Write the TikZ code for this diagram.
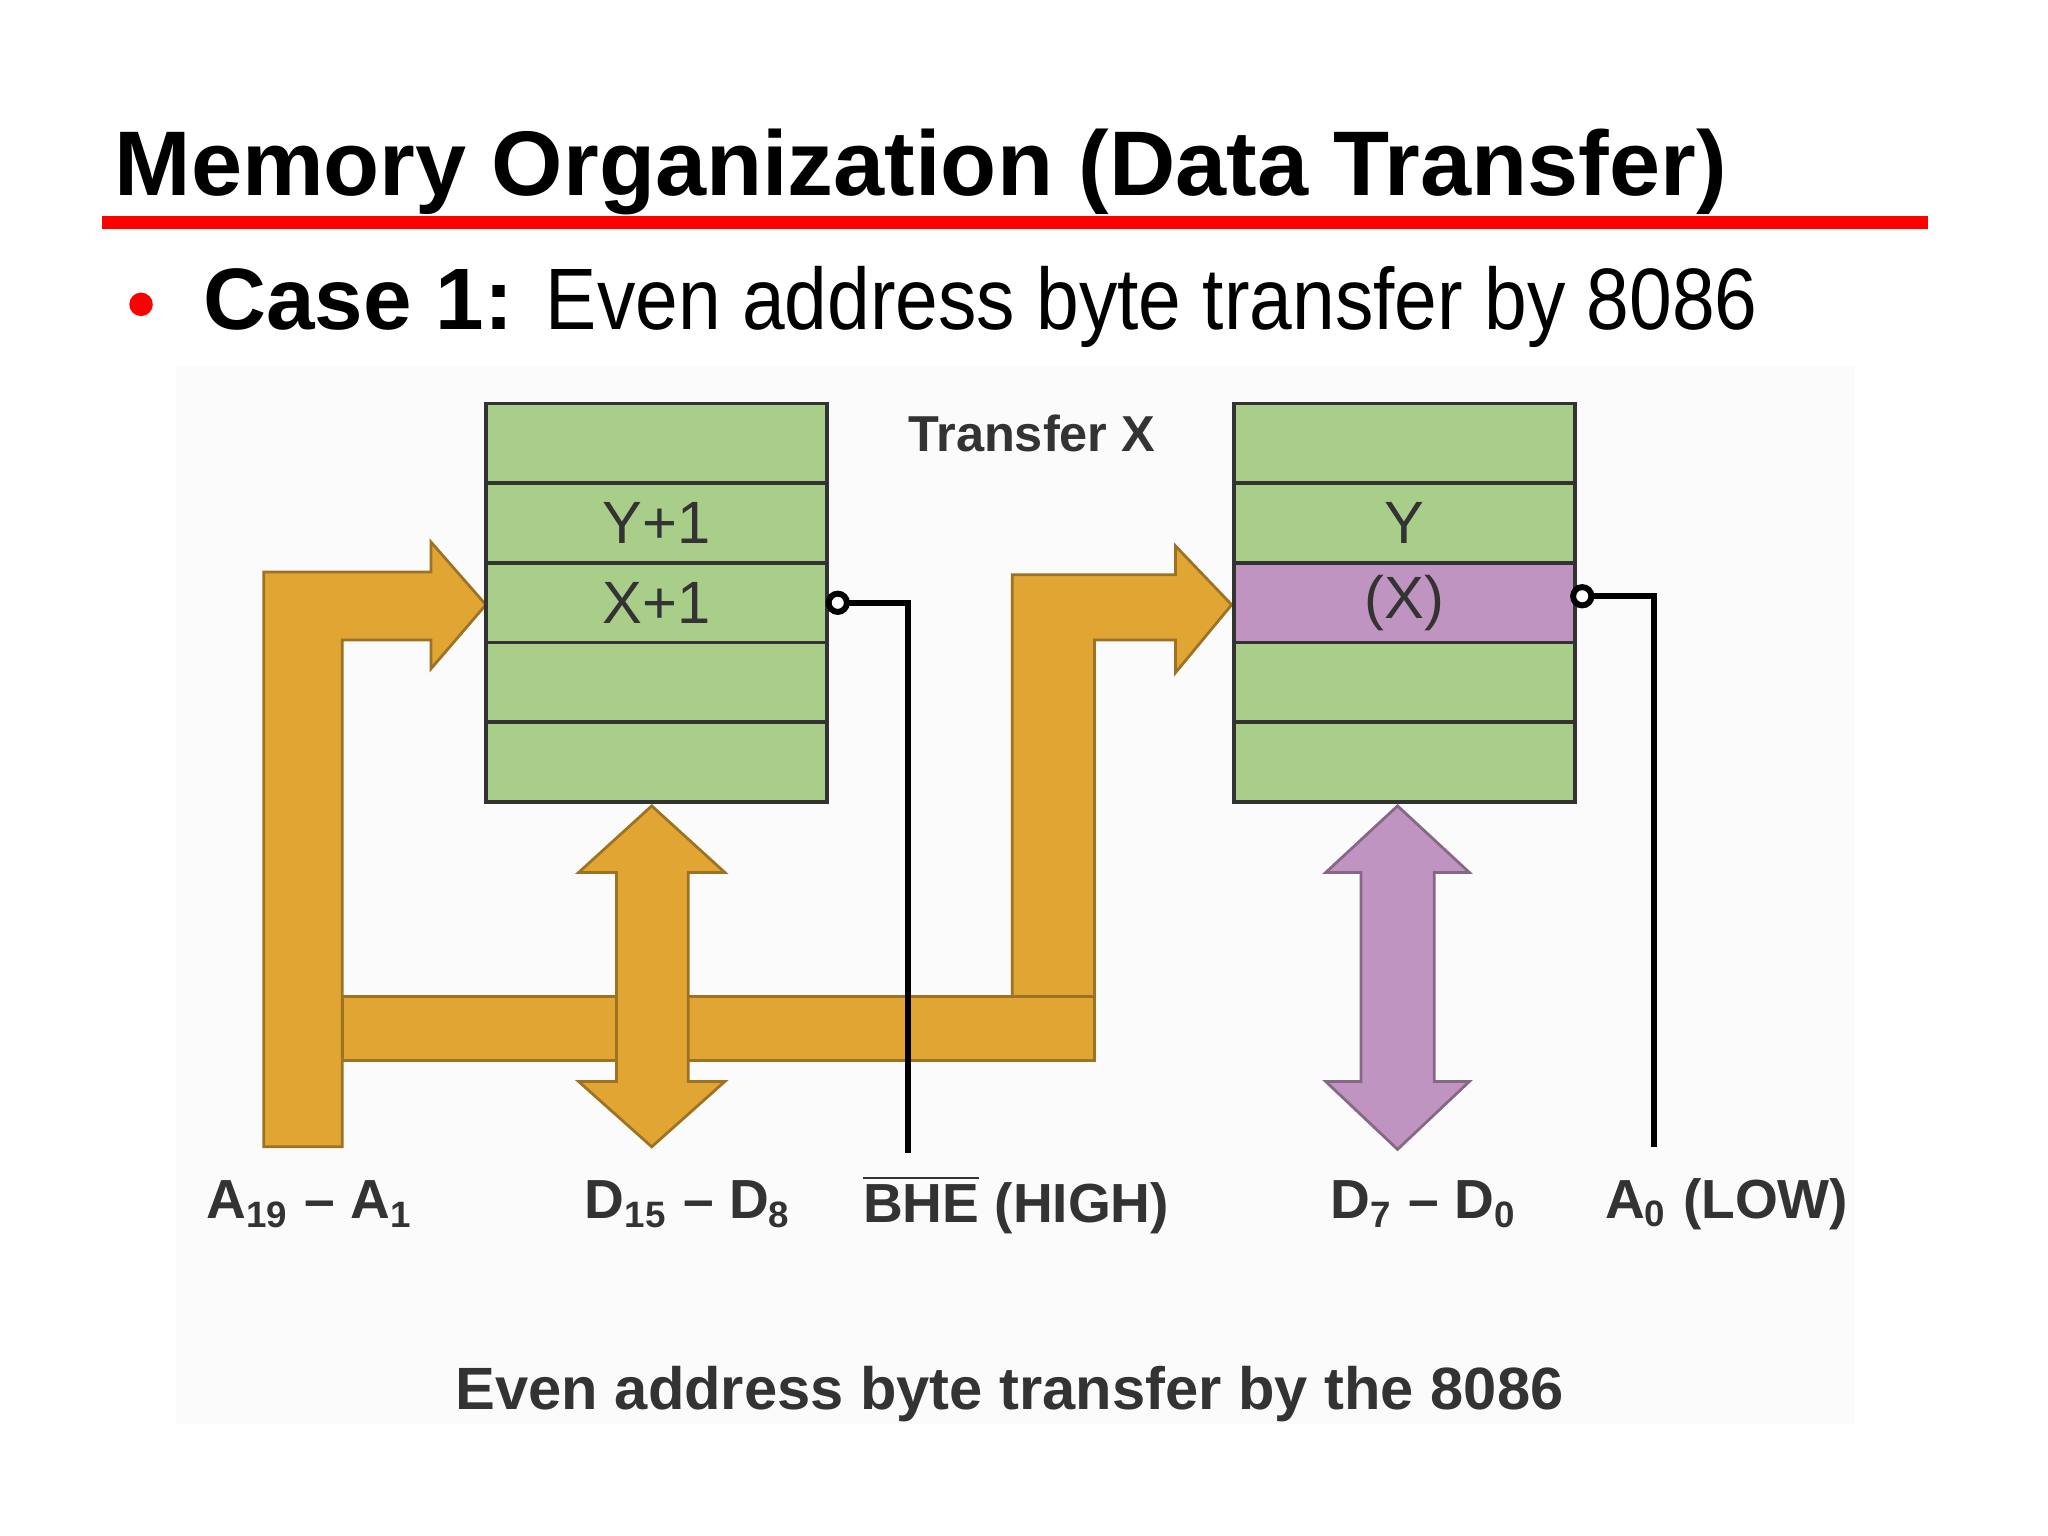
\documentclass[tikz,border=0pt]{standalone}
\usepackage{fontspec}
\setmainfont{Liberation Sans}
\newfontfamily\narrowsans{Liberation Sans}[FakeStretch=0.88]
\usetikzlibrary{positioning}
\definecolor{memgreen}{HTML}{A9CE8A}
\definecolor{buspurple}{HTML}{BF94C0}
\definecolor{busorange}{HTML}{E0A532}
\definecolor{labelgray}{HTML}{333333}
\begin{document}
\begin{tikzpicture}[x=0.1mm,y=-0.1mm,
row/.style={draw=black!80,thick,fill=memgreen,minimum width=2.61cm,minimum height=0.61cm,inner sep=0pt,text=labelgray,font=\fontsize{13}{13}\selectfont},
bus/.style={draw=busorange!70!black,fill=busorange,line width=0.6pt},
dbus/.style={draw=buspurple!70!black,fill=buspurple,line width=0.6pt},
sig/.style={line width=1.3pt},
lbl/.style={font=\bfseries\fontsize{12}{12}\selectfont,text=labelgray}]

\useasboundingbox (0,0) rectangle (1568,1176);
\fill[black!1.5] (135,280) rectangle (1420,1090);

% title
\node[anchor=base west,inner sep=0pt,font=\bfseries\fontsize{20}{20}\selectfont] (title) at (87,150) {Memory Organization (Data Transfer)};
\fill[red] (78,165) rectangle (1476,175);
\fill[red] (108,233) circle (9);
\node[anchor=base west,inner sep=0pt,font=\fontsize{19}{19}\selectfont] (case) at (155,252) {\textbf{Case 1:} {\narrowsans Even address byte transfer by 8086}};

% address bus
\draw[bus] (202,878) -- (202,438) -- (330,438) -- (330,415) -- (372,463) -- (330,512) -- (330,490) -- (262,490) -- (262,878) -- cycle;
\draw[bus] (775,812) -- (775,440) -- (900,440) -- (900,418) -- (943,463) -- (900,515) -- (900,490) -- (838,490) -- (838,812) -- cycle;
\draw[bus] (262,763) rectangle (838,812);

% data buses
\draw[bus] (499,617) -- (555,668) -- (527,668) -- (527,828) -- (555,828) -- (499,878) -- (443,828) -- (472,828) -- (472,668) -- (443,668) -- cycle;
\draw[dbus] (1070,617) -- (1125,668) -- (1098,668) -- (1098,828) -- (1125,828) -- (1070,880) -- (1015,828) -- (1042,828) -- (1042,668) -- (1015,668) -- cycle;

% memory banks
\foreach \i/\t in {1/,2/Y+1,3/X+1,4/,5/}
  \node[row] (L\i) at (502.5,{278.5+61*\i}) {\t};
\foreach \i/\t in {1/,2/Y,3/(X),4/,5/}
  \node[row] (R\i) at (1075.5,{278.5+61*\i}) {\t};
\node[row,fill=buspurple] at (R3) {(X)};

\node[font=\bfseries\fontsize{11}{11}\selectfont,text=labelgray] (xfer) at (790,332) {Transfer X};

% control lines
\coordinate (bhe) at (695,883);
\coordinate (a0) at (1266,878);
\draw[sig] (L3.east) ++(7,0) coordinate (bhec) -| (bhe);
\draw[sig,fill=white] (bhec) circle (7);
\draw[sig] (R3.east) ++(4,-5) coordinate (a0c) -| (a0);
\draw[sig,fill=white] (a0c) circle (7);

% labels
\node[lbl] (la) at (237,922) {A$_{\mathbf{19}}$ -- A$_{\mathbf{1}}$};
\node[lbl] (ld) at (527,922) {D$_{\mathbf{15}}$ -- D$_{\mathbf{8}}$};
\node[lbl] (lb) at (778,922) {$\overline{\mbox{BHE}}$ (HIGH)};
\node[lbl] (le) at (1090,922) {D$_{\mathbf{7}}$ -- D$_{\mathbf{0}}$};
\node[lbl] (lz) at (1322,922) {A$_{\mathbf{0}}$ (LOW)};
\node[font=\bfseries\fontsize{13}{13}\selectfont,text=labelgray] (cap) at (773,1067) {Even address byte transfer by the 8086};
\end{tikzpicture}
\end{document}
